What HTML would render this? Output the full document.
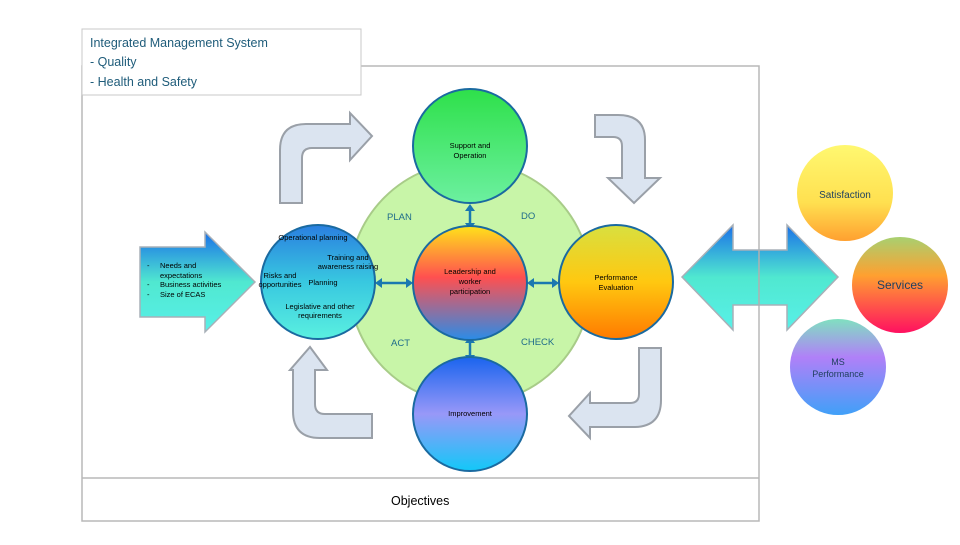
<!DOCTYPE html>
<html><head><meta charset="utf-8"><style>
body{margin:0;width:960px;height:540px;background:#fff;overflow:hidden;font-family:"Liberation Sans",sans-serif}
svg text{font-family:"Liberation Sans",sans-serif}
</style></head><body>
<svg width="960" height="540" viewBox="0 0 960 540" xmlns="http://www.w3.org/2000/svg">
<defs>
<linearGradient id="gTop" x1="0" y1="0" x2="0" y2="1"><stop offset="0" stop-color="#2ee04a"/><stop offset="1" stop-color="#6cf0a0"/></linearGradient>
<linearGradient id="gLeft" x1="0" y1="0" x2="0" y2="1"><stop offset="0" stop-color="#2a7fe0"/><stop offset="0.5" stop-color="#38c8e0"/><stop offset="1" stop-color="#5af0e0"/></linearGradient>
<linearGradient id="gMid" x1="0" y1="0" x2="0" y2="1"><stop offset="0" stop-color="#ffe21a"/><stop offset="0.45" stop-color="#ff5050"/><stop offset="1" stop-color="#2a8ce8"/></linearGradient>
<linearGradient id="gRight" x1="0" y1="0" x2="0" y2="1"><stop offset="0" stop-color="#d8e040"/><stop offset="0.5" stop-color="#ffc810"/><stop offset="1" stop-color="#ff7a00"/></linearGradient>
<linearGradient id="gBot" x1="0" y1="0" x2="0" y2="1"><stop offset="0" stop-color="#1a64ee"/><stop offset="0.5" stop-color="#9898f8"/><stop offset="1" stop-color="#12c8f8"/></linearGradient>
<linearGradient id="gSat" x1="0" y1="0" x2="0" y2="1"><stop offset="0" stop-color="#fff870"/><stop offset="0.6" stop-color="#ffe050"/><stop offset="1" stop-color="#ffa030"/></linearGradient>
<linearGradient id="gSrv" x1="0" y1="0" x2="0" y2="1"><stop offset="0" stop-color="#a8d070"/><stop offset="0.4" stop-color="#ffa030"/><stop offset="1" stop-color="#ff1060"/></linearGradient>
<linearGradient id="gMS" x1="0" y1="0" x2="0" y2="1"><stop offset="0" stop-color="#80e0c0"/><stop offset="0.4" stop-color="#b080f8"/><stop offset="1" stop-color="#40a0f8"/></linearGradient>
<linearGradient id="gArr" x1="0" y1="0" x2="0" y2="1"><stop offset="0" stop-color="#1a70e8"/><stop offset="0.5" stop-color="#50e8d0"/><stop offset="1" stop-color="#58f0e8"/></linearGradient>
</defs>
<rect x="82" y="66" width="677" height="455" fill="none" stroke="#b8b8b8" stroke-width="1.5"/>
<line x1="82" y1="478" x2="759" y2="478" stroke="#b8b8b8" stroke-width="1.5"/>
<rect x="82" y="29" width="279" height="66" fill="#fff" stroke="#c8c8c8" stroke-width="1"/>
<text x="90" y="47" font-size="12.5" fill="#1f5c7a">Integrated Management System</text>
<text x="90" y="66" font-size="12.5" fill="#1f5c7a">- Quality</text>
<text x="90" y="86" font-size="12.5" fill="#1f5c7a">- Health and Safety</text>
<text x="391" y="505" font-size="12.5" fill="#000">Objectives</text>

<g fill="#dbe4f0" stroke="#9aa0a8" stroke-width="2" stroke-linejoin="miter">
<path d="M280,203 L280,150 Q280,124 306,124 L350,124 L350,113 L372,136 L350,160 L350,148 L312,148 Q302,148 302,158 L302,203 Z"/>
<path d="M595,115 L618,115 Q645,115 645,140 L645,178 L660,178 L634,203 L608,178 L622,178 L622,146 Q622,137 613,137 L595,137 Z"/>
<path d="M661,348 L661,400 Q661,427 634,427 L590,427 L590,438 L569,416 L590,393 L590,403 L630,403 Q639,403 639,394 L639,348 Z"/>
<path d="M372,438 L320,438 Q293,438 293,411 L293,370 L290,370 L310,347 L327,370 L315,370 L315,404 Q315,414 325,414 L372,414 Z"/>
</g>

<circle cx="470" cy="283" r="121" fill="#c8f5a8" stroke="#a8cc88" stroke-width="2"/>

<g stroke="#1a78b0" stroke-width="2.5" fill="#1a78b0">
<line x1="470" y1="207" x2="470" y2="226"/><path d="M465,211 L470,204 L475,211Z M465,223 L470,230 L475,223Z" stroke="none"/>
<line x1="470" y1="340" x2="470" y2="358"/><path d="M465,343 L470,336 L475,343Z M465,355 L470,362 L475,355Z" stroke="none"/>
<line x1="378" y1="283" x2="410" y2="283"/><path d="M382,278 L375,283 L382,288Z M406,278 L413,283 L406,288Z" stroke="none"/>
<line x1="530" y1="283" x2="556" y2="283"/><path d="M534,278 L527,283 L534,288Z M552,278 L559,283 L552,288Z" stroke="none"/>
</g>

<g stroke="#1a6aa0" stroke-width="2">
<circle cx="470" cy="146" r="57" fill="url(#gTop)"/>
<circle cx="470" cy="283" r="57" fill="url(#gMid)"/>
<circle cx="616" cy="282" r="57" fill="url(#gRight)"/>
<circle cx="470" cy="414" r="57" fill="url(#gBot)"/>
</g>

<path d="M140,247 L205,247 L205,232 L255,282 L205,332 L205,317 L140,317 Z" fill="url(#gArr)" stroke="#a8b0b8" stroke-width="1.5"/>
<circle cx="318" cy="282" r="57" fill="url(#gLeft)" stroke="#1a6aa0" stroke-width="2"/>

<path d="M682,277 L733,225 L733,250 L787,250 L787,225 L838,277 L787,330 L787,305 L733,305 L733,330 Z" fill="url(#gArr)" stroke="#a8b0b8" stroke-width="1.5"/>
<line x1="759" y1="250" x2="759" y2="305" stroke="#b0b0b0" stroke-width="1.5"/>

<circle cx="845" cy="193" r="48" fill="url(#gSat)"/>
<circle cx="900" cy="285" r="48" fill="url(#gSrv)"/>
<circle cx="838" cy="367" r="48" fill="url(#gMS)"/>

<g font-size="7.5" fill="#000" text-anchor="middle">
<text x="470" y="148">Support and</text><text x="470" y="158">Operation</text>
<text x="470" y="274">Leadership and</text><text x="470" y="284">worker</text><text x="470" y="294">participation</text>
<text x="616" y="280">Performance</text><text x="616" y="290">Evaluation</text>
<text x="470" y="416">Improvement</text>
<text x="313" y="240">Operational planning</text>
<text x="348" y="260">Training and</text><text x="348" y="269">awareness raising</text>
<text x="280" y="278">Risks and</text><text x="280" y="287">opportunities</text>
<text x="323" y="285">Planning</text>
<text x="320" y="309">Legislative and other</text><text x="320" y="318">requirements</text>
</g>
<g font-size="7.5" fill="#000">
<text x="147" y="268">-</text><text x="160" y="268">Needs and</text><text x="160" y="278">expectations</text>
<text x="147" y="287">-</text><text x="160" y="287">Business activities</text>
<text x="147" y="297">-</text><text x="160" y="297">Size of ECAS</text>
</g>
<g font-size="9.5" fill="#1f6c8a">
<text x="387" y="220">PLAN</text><text x="521" y="219">DO</text>
<text x="391" y="346">ACT</text><text x="521" y="345">CHECK</text>
</g>
<g text-anchor="middle" fill="#1f4060">
<text x="845" y="198" font-size="10">Satisfaction</text>
<text x="900" y="289" font-size="12">Services</text>
<text x="838" y="365" font-size="9">MS</text><text x="838" y="377" font-size="9">Performance</text>
</g>
</svg>
</body></html>
